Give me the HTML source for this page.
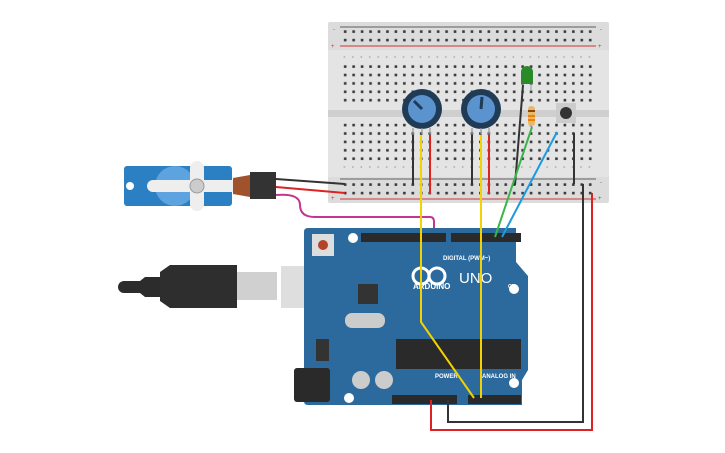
<!DOCTYPE html>
<html><head><meta charset="utf-8"><style>html,body{margin:0;padding:0;background:#fff}svg{display:block}</style></head><body>
<svg width="725" height="453" viewBox="0 0 725 453" xmlns="http://www.w3.org/2000/svg" font-family="Liberation Sans, sans-serif">
<defs>
<pattern id="h" x="343.3" y="0" width="8.45" height="8.4" patternUnits="userSpaceOnUse"><rect x="0.6" y="0.3" width="2.6" height="2.6" fill="#3a3a3a"/></pattern>
<pattern id="hp" x="342.6" y="0" width="8.45" height="3" patternUnits="userSpaceOnUse"><rect x="1" y="0.2" width="1.6" height="1.6" fill="#b0b0b0"/></pattern>
</defs>
<!-- breadboard -->
<rect x="328" y="22" width="281" height="181" rx="2" fill="#dcdcdc"/>
<rect x="328" y="50" width="281" height="127" fill="#e4e4e4"/>
<rect x="328" y="110" width="281" height="7" fill="#cfcfcf"/>
<line x1="340" y1="27" x2="596" y2="27" stroke="#777" stroke-width="1.2"/>
<line x1="340" y1="46" x2="596" y2="46" stroke="#c33" stroke-width="1"/>
<line x1="340" y1="179" x2="596" y2="179" stroke="#777" stroke-width="1.2"/>
<line x1="340" y1="199" x2="596" y2="199" stroke="#c33" stroke-width="1"/>
<g>
<rect x="343" y="0" width="252" height="3" fill="url(#h)" transform="translate(0,30)"/>
<rect x="343" y="0" width="252" height="3" fill="url(#h)" transform="translate(0,38.5)"/>
<rect x="343" y="0" width="252" height="42" fill="url(#h)" transform="translate(0,65)"/>
<rect x="343" y="0" width="252" height="42" fill="url(#h)" transform="translate(0,123.5)"/>
<rect x="343" y="0" width="252" height="3" fill="url(#h)" transform="translate(0,183)"/>
<rect x="343" y="0" width="252" height="3" fill="url(#h)" transform="translate(0,191.5)"/>
<rect x="343" y="0" width="252" height="2" fill="url(#hp)" transform="translate(0,56)"/>
<rect x="343" y="0" width="252" height="2" fill="url(#hp)" transform="translate(0,166)"/>
</g>
<g font-size="6" fill="#666">
<text x="333" y="31">-</text><text x="600" y="31">-</text>
<text x="331" y="48" fill="#c33">+</text><text x="598" y="48" fill="#c33">+</text>
<text x="333" y="184">-</text><text x="600" y="184">-</text>
<text x="331" y="200" fill="#c33">+</text><text x="598" y="200" fill="#c33">+</text>
</g>
<!-- pots -->
<g>
<circle cx="422" cy="109" r="20" fill="#1f3b55"/><circle cx="422" cy="109" r="14" fill="#5b93cf"/>
<line x1="422" y1="109" x2="414" y2="101" stroke="#1f3b55" stroke-width="3"/>
<circle cx="481" cy="109" r="20" fill="#1f3b55"/><circle cx="481" cy="109" r="14" fill="#5b93cf"/>
<line x1="481" y1="109" x2="482" y2="97" stroke="#1f3b55" stroke-width="3"/>
<g stroke="#999" stroke-width="1.3"><line x1="413" y1="128" x2="413" y2="134"/><line x1="422" y1="128" x2="422" y2="134"/><line x1="430" y1="128" x2="430" y2="134"/><line x1="472" y1="128" x2="472" y2="134"/><line x1="481" y1="128" x2="481" y2="134"/><line x1="489" y1="128" x2="489" y2="134"/></g>
</g>
<!-- LED, resistor, button -->
<path d="M521,84 v-12 a6,6 0 0 1 12,0 v12 z" fill="#2a8a2a"/>
<line x1="523" y1="84" x2="523" y2="91" stroke="#999"/><line x1="531" y1="84" x2="531" y2="91" stroke="#999"/>
<rect x="528" y="106" width="7" height="20" rx="3" fill="#e8b96a"/>
<rect x="528" y="110" width="7" height="2" fill="#8b4513"/><rect x="528" y="115" width="7" height="2" fill="#f08000"/><rect x="528" y="119" width="7" height="2" fill="#f08000"/>
<rect x="556" y="103" width="20" height="20" fill="#ccc"/><circle cx="566" cy="113" r="6" fill="#333"/>
<!-- breadboard wires -->
<g stroke-width="2" fill="none">
<line x1="413" y1="135" x2="413" y2="185" stroke="#333"/>
<line x1="430" y1="135" x2="430" y2="194" stroke="#d22"/>
<line x1="472" y1="135" x2="472" y2="185" stroke="#333"/>
<line x1="489" y1="135" x2="489" y2="194" stroke="#d22"/>
<line x1="523" y1="85" x2="515" y2="185" stroke="#333"/>
<line x1="574" y1="133" x2="574" y2="184" stroke="#333"/>
</g>
<!-- servo -->
<rect x="124" y="166" width="108" height="40" rx="3" fill="#2b7fc3"/>
<circle cx="130" cy="186" r="4" fill="#fff"/>
<circle cx="175" cy="186" r="20" fill="#5ca3e0"/>
<rect x="147" y="180" width="92" height="12" rx="6" fill="#eee"/>
<rect x="190" y="161" width="14" height="50" rx="7" fill="#eee"/>
<circle cx="197" cy="186" r="7" fill="#ccc" stroke="#999"/>
<path d="M233,178 L250,175 L250,197 L233,194z" fill="#a0522d"/>
<rect x="250" y="172" width="26" height="27" fill="#333"/>
<g stroke-width="2" fill="none">
<path d="M276,179 L345,184" stroke="#333"/>
<path d="M276,187 L345,193" stroke="#d22"/>
<path d="M276,195 Q300,193 300,205 Q300,217 315,217 L430,217 Q434,217 434,222 L434,237" stroke="#c2368f"/>
</g>
<!-- usb -->
<path d="M118,287 a6,6 0 0 1 6,-6 L140,281 L145,277 L160,277 L160,297 L145,297 L140,293 L124,293 a6,6 0 0 1 -6,-6z" fill="#2c2c2c"/>
<path d="M160,272 L170,265 L237,265 L237,308 L170,308 L160,301z" fill="#2e2e2e"/>
<rect x="237" y="272" width="40" height="28" fill="#d0d0d0"/>
<rect x="281" y="266" width="40" height="42" fill="#dedede"/>
<!-- arduino -->
<path d="M304,232 q0,-4 4,-4 L516,228 L516,262 L528,276 L528,370 L522,380 L522,405 L308,405 q-4,0 -4,-4z" fill="#2c6a9d"/>
<rect x="281" y="266" width="23" height="42" fill="#dedede"/>
<rect x="312" y="234" width="22" height="22" fill="#ddd"/><circle cx="323" cy="245" r="5" fill="#b5432a"/>
<circle cx="353" cy="238" r="5" fill="#fff"/><circle cx="514" cy="289" r="5" fill="#fff"/><circle cx="514" cy="383" r="5" fill="#fff"/><circle cx="349" cy="398" r="5" fill="#fff"/>
<rect x="361" y="233" width="85" height="9" fill="#2a2a2a"/><rect x="451" y="233" width="70" height="9" fill="#2a2a2a"/>
<rect x="392" y="395" width="65" height="9" fill="#2a2a2a"/><rect x="468" y="395" width="53" height="9" fill="#2a2a2a"/>
<rect x="396" y="339" width="125" height="30" fill="#2a2a2a"/>
<rect x="358" y="284" width="20" height="20" fill="#333"/>
<rect x="345" y="313" width="40" height="15" rx="7" fill="#ccc"/>
<rect x="294" y="368" width="36" height="34" rx="3" fill="#2a2a2a"/>
<rect x="316" y="339" width="13" height="22" fill="#333"/>
<circle cx="361" cy="380" r="9" fill="#ccc"/><circle cx="384" cy="380" r="9" fill="#ccc"/>
<g fill="#fff" font-size="6" font-weight="bold">
<text x="443" y="260">DIGITAL (PWM~)</text>
<text x="413" y="289" font-size="8">ARDUINO</text>
<text x="459" y="283" font-size="15" font-weight="normal">UNO</text>
<text x="435" y="378">POWER</text><text x="482" y="378">ANALOG IN</text>
<text x="508" y="288" font-size="5">ON</text>
</g>
<circle cx="421" cy="276" r="8" fill="none" stroke="#fff" stroke-width="3"/><circle cx="437" cy="276" r="8" fill="none" stroke="#fff" stroke-width="3"/>
<!-- arduino wires -->
<g stroke-width="2" fill="none">
<path d="M421,135 L421,322 L474,398" stroke="#f2d200"/>
<path d="M481,135 L481,398" stroke="#f2d200"/>
<path d="M532,127 L495,237" stroke="#3bb54a"/>
<path d="M557,132 L502,237" stroke="#1d9be0"/>
<path d="M583,184 L583,422 L448,422 L448,400" stroke="#333"/>
<path d="M592,193 L592,430 L431,430 L431,400" stroke="#d22"/>
</g>
</svg>
</body></html>
